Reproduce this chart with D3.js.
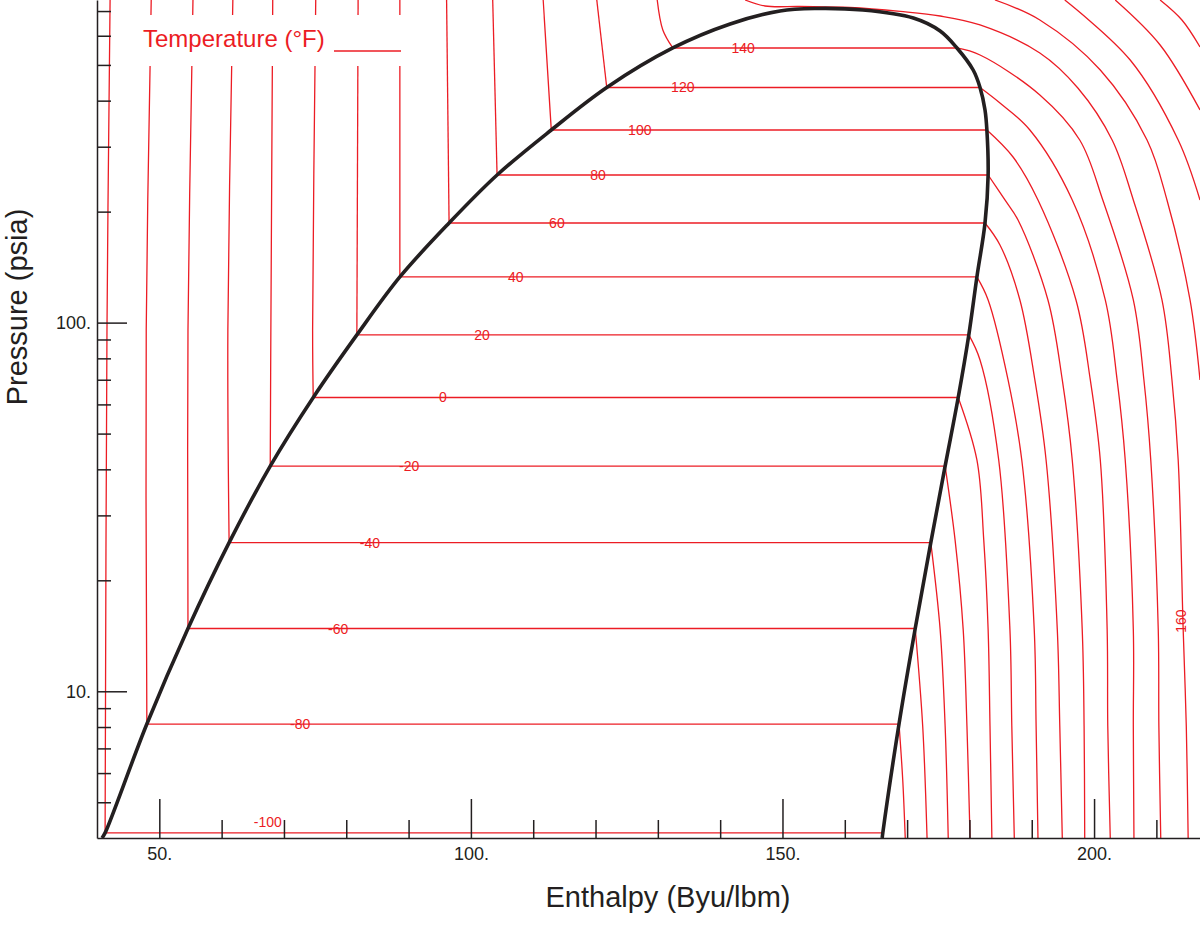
<!DOCTYPE html>
<html lang="en">
<head>
<meta charset="utf-8">
<script src="https://d3js.org/d3.v7.min.js"></script>
<style>
  body { margin: 0; background: #fff; }
  svg { display: block; font-family: "Liberation Sans", Arial, Helvetica, sans-serif; }
  .iso { fill: none; stroke: #ec1c24; stroke-width: 1.3; }
  .dome { fill: none; stroke: #231f20; stroke-width: 3.6; stroke-linejoin: round; }
  .axis path, .axis line { stroke: #231f20; stroke-width: 1.5; }
  .axis text { font-family: "Liberation Sans", Arial, sans-serif; font-size: 18px; fill: #231f20; }
  .isoLabel { fill: #ec1c24; font-size: 14px; }
</style>
</head>
<body>
<svg id="chart" width="1200" height="931"></svg>
<script>
// ---- data (enthalpy in Btu/lbm, pressure in psia) ----

// one entry per subcritical isotherm (deg F)
const tempsF  = [-100, -80, -60, -40, -20, 0, 20, 40, 60, 80, 100, 120, 140];
const satPsia = [4.13, 8.15, 14.8, 25.3, 40.8, 62.65, 92.6, 133.0, 186.3, 251.4, 333.0, 434.3, 555.8];
const satLiqH = [41.3, 48.0, 54.6, 61.2, 67.8, 74.7, 81.7, 88.6, 96.5, 104.2, 112.9, 121.8, 132.4];
const satVapH = [166.1, 168.7, 171.3, 173.8, 176.1, 178.2, 179.9, 181.2, 182.5, 183.0, 182.8, 181.7, 178.0];
// enthalpy where each label sits on its line
const labelH  = [67.4, 72.6, 78.7, 83.8, 90.1, 95.5, 101.8, 107.2, 113.8, 120.4, 127.1, 134.0, 143.7];

// liquid branch of each isotherm, from the top of the chart down (saturation point added later)
const liquidLines = [
  [[42.1, 750], [41.6, 95.5]],
  [[48.7, 750], [47.9, 95.5]],
  [[55.4, 750], [54.6, 95.5]],
  [[61.8, 750], [61.0, 95.5]],
  [[68.2, 750], [67.9, 95.5]],
  [[75.1, 750], [74.6, 95.5]],
  [[81.9, 750]],
  [[88.6, 750]],
  [[96.1, 750]],
  [[103.5, 750]],
  [[111.6, 750]],
  [[120.2, 750]],
  [[129.9, 750], [130.8, 622.0]]
];

// vapour branch of each isotherm, after the dew point
const vaporLines = [
  [],
  [[169.3, 5.74], [169.7, 4.0]],
  [[172.5, 8.05], [173.2, 4.0]],
  [[175.3, 14.7], [176.1, 8.05], [176.6, 4.0]],
  [[177.7, 25.7], [179.0, 14.7], [179.6, 8.05], [180.1, 4.0]],
  [[181.2, 42.4], [182.3, 25.7], [183.0, 14.7], [183.3, 8.05], [183.6, 4.0]],
  [[181.7, 79.2], [184.7, 42.4], [186.5, 14.7], [186.8, 8.05], [187.2, 4.0]],
  [[183.0, 115.2], [186.2, 69.9], [188.4, 42.4], [190.4, 14.7], [190.7, 8.05], [191.0, 4.0]],
  [[184.9, 162.4], [188.1, 115.2], [190.5, 69.9], [192.3, 42.4], [194.1, 14.7], [194.5, 8.05], [194.9, 4.0]],
  [[185.7, 215.1], [187.8, 189.8], [192.6, 115.2], [194.9, 69.9], [196.5, 42.4], [198.1, 14.7], [198.4, 8.05], [198.5, 4.0]],
  [[187.0, 281.3], [191.0, 215.1], [197.1, 115.2], [199.4, 69.9], [201.0, 42.4], [202.1, 14.7], [202.2, 8.05], [202.6, 4.0]],
  [[184.9, 394.2], [189.7, 333.0], [196.5, 215.1], [201.8, 115.2], [203.7, 69.9], [205.0, 42.4], [206.3, 14.7], [206.3, 8.05], [206.4, 4.0]],
  [[181.7, 532.0], [191.3, 414.4], [197.7, 312.9], [201.4, 215.1], [206.3, 115.2], [208.0, 69.9], [209.1, 42.4], [210.3, 14.7], [210.4, 8.05], [210.7, 4.0]]
];

// isotherms that never cross the dome
const line160 = [[144.0, 750], [147.2, 722.4], [152.8, 720.1], [160.8, 715.6], [168.9, 698.2], [175.3, 678.7],
  [181.7, 641.7], [191.3, 538.7], [197.4, 432.9], [202.9, 312.9], [206.3, 215.1], [210.9, 115.2],
  [212.5, 69.9], [213.5, 42.4], [214.3, 14.7], [214.8, 8.05], [215.1, 4.0]];
const line180 = [[184.1, 750], [191.3, 662.0], [201.0, 484.4], [208.5, 312.9], [211.7, 215.1], [215.4, 115.2], [217.0, 69.9]];
const line200 = [[195.3, 750], [205.8, 515.6], [213.5, 312.9], [217.0, 215.1]];
const line220 = [[203.4, 750], [210.6, 566.3], [217.0, 377.4]];
const line240 = [[210.6, 750], [214.1, 662.0], [217.0, 559.3]];
const hotLines = [line160, line180, line200, line220, line240];
const label160 = [214.3, 15.5];

// saturation dome, liquid side up and vapour side down
const dome = [[40.8, 4.0], [41.3, 4.13], [48.0, 8.15], [54.6, 14.8], [61.2, 25.3], [67.8, 40.8], [74.7, 62.65],
  [81.7, 92.6], [88.6, 133.0], [96.5, 186.3], [104.2, 251.4], [112.9, 333.0], [121.8, 434.3], [132.4, 555.8],
  [141.6, 645.7], [149.6, 700.3], [155.2, 711.3], [162.9, 704.6], [171.0, 670.3], [175.3, 618.1],
  [178.0, 555.8], [180.6, 484.4], [181.7, 434.3], [182.5, 377.4], [182.8, 333.0], [183.0, 251.4],
  [182.5, 186.3], [181.2, 133.0], [179.9, 92.6], [178.2, 62.65], [176.1, 40.8], [173.8, 25.3],
  [171.3, 14.8], [168.7, 8.15], [166.1, 4.13], [166.0, 4.0]];

// axis ticks
const xMajor = [50, 100, 150, 200];
const xMinor = [60, 70, 80, 90, 110, 120, 130, 140, 160, 170, 180, 190, 210];
const yMajor = [10, 100];
const yMinor = [5, 6, 7, 8, 9, 20, 30, 40, 50, 60, 70, 80, 90, 200, 300, 400, 500, 600, 700];

// ---- drawing ----
const svg = d3.select("#chart");

const x = d3.scaleLinear().domain([40, 217]).range([97, 1200]);
const y = d3.scaleLog().domain([4, 750]).range([838, 0]);

svg.append("defs").append("clipPath").attr("id", "plot")
  .append("rect").attr("x", x(40)).attr("y", 0).attr("width", x(217) - x(40)).attr("height", y(4));

const curve = d3.line()
  .x(d => x(d[0]))
  .y(d => y(d[1]))
  .curve(d3.curveCatmullRom.alpha(0.5));
const straight = d3.line().x(d => x(d[0])).y(d => y(d[1]));

const iso = svg.append("g").attr("clip-path", "url(#plot)");

tempsF.forEach((t, i) => {
  const liq = [[satLiqH[i], satPsia[i]]];
  const vap = [[satVapH[i], satPsia[i]]];
  // compressed liquid
  iso.append("path").attr("class", "iso")
    .attr("d", curve(liquidLines[i].concat(liq)));
  // two-phase, constant pressure
  iso.append("path").attr("class", "iso")
    .attr("d", straight(liq.concat(vap)));
  // superheated vapour
  if (vaporLines[i].length) {
    iso.append("path").attr("class", "iso")
      .attr("d", curve(vap.concat(vaporLines[i])));
  }
});

hotLines.forEach(pts => {
  iso.append("path").attr("class", "iso").attr("d", curve(pts));
});

// legend sits on a white patch that hides the lines behind it
svg.append("rect")
  .attr("x", 140).attr("y", 15).attr("width", 263).attr("height", 51)
  .attr("fill", "#fff");
svg.append("text")
  .attr("x", 143).attr("y", 47)
  .attr("font-size", 24).attr("fill", "#ec1c24")
  .text("Temperature (°F)");
svg.append("line")
  .attr("x1", 334).attr("x2", 401).attr("y1", 51).attr("y2", 51)
  .attr("stroke", "#ec1c24").attr("stroke-width", 1.3);

// saturation dome
svg.append("path").attr("class", "dome").attr("d", curve(dome));

// isotherm labels
svg.selectAll(".isoLabel.sub")
  .data(tempsF)
  .join("text")
  .attr("class", "isoLabel sub")
  .attr("x", (d, i) => x(labelH[i]))
  .attr("y", (d, i) => y(satPsia[i]))
  // the lowest line runs along the axis, so its label is lifted above it
  .attr("dy", (d, i) => i === 0 ? -11 : 0)
  .attr("text-anchor", "middle")
  .attr("dominant-baseline", "central")
  .text(d => d);

svg.append("text")
  .attr("class", "isoLabel")
  .attr("transform", `translate(${x(label160[0]) - 2},${y(label160[1])}) rotate(-90)`)
  .attr("text-anchor", "middle")
  .attr("dominant-baseline", "central")
  .text("160");

// x axis, ticks pointing up into the plot
const xAxisMinor = svg.append("g").attr("class", "axis")
  .attr("transform", `translate(0,${y(4)})`)
  .call(d3.axisBottom(x).tickValues(xMinor).tickSize(-18).tickSizeOuter(0).tickFormat(""));
xAxisMinor.select(".domain").remove();

svg.append("g").attr("class", "axis")
  .attr("transform", `translate(0,${y(4)})`)
  .call(d3.axisBottom(x).tickValues(xMajor).tickSize(-39).tickSizeOuter(0).tickPadding(9)
    .tickFormat(d => d + "."))
  .call(g => g.select(".domain").attr("stroke-width", 2.2));

// y axis, ticks pointing right into the plot
const yAxisMinor = svg.append("g").attr("class", "axis")
  .attr("transform", `translate(${x(40)},0)`)
  .call(d3.axisLeft(y).tickValues(yMinor).tickSize(-14).tickSizeOuter(0).tickFormat(""));
yAxisMinor.select(".domain").remove();

svg.append("g").attr("class", "axis")
  .attr("transform", `translate(${x(40)},0)`)
  .call(d3.axisLeft(y).tickValues(yMajor).tickSize(-30).tickSizeOuter(0).tickPadding(6)
    .tickFormat(d => d + "."))
  .call(g => g.select(".domain").attr("stroke-width", 2.2));

// axis titles
svg.append("text")
  .attr("x", 668).attr("y", 907)
  .attr("text-anchor", "middle")
  .attr("font-size", 29).attr("fill", "#231f20")
  .text("Enthalpy (Byu/lbm)");

svg.append("text")
  .attr("transform", "translate(27,307) rotate(-90)")
  .attr("text-anchor", "middle")
  .attr("font-size", 29).attr("fill", "#231f20")
  .text("Pressure (psia)");
</script>
</body>
</html>
